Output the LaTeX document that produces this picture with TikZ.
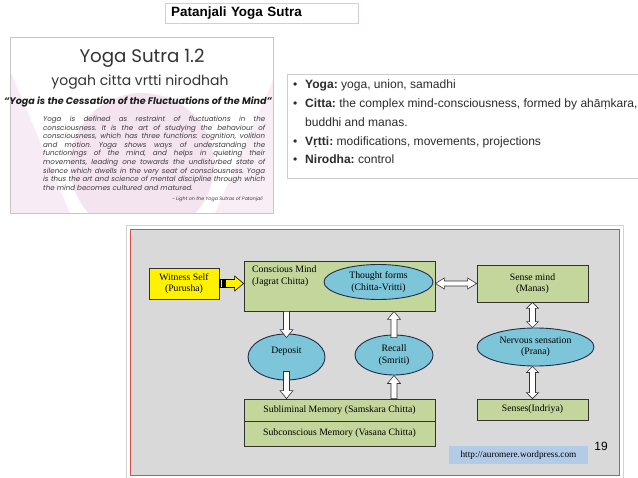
\documentclass[tikz,border=0pt]{standalone}
\usepackage{fontspec}
\usetikzlibrary{calc,shapes.geometric}
\newfontfamily\serf{Liberation Serif}
\newfontfamily\ars{Liberation Sans}
\newfontfamily\pop{Poppins}
\definecolor{bggray}{RGB}{217,217,217}
\definecolor{boxgreen}{RGB}{195,214,155}
\definecolor{ellblue}{RGB}{125,197,216}
\definecolor{ellline}{RGB}{35,45,75}
\definecolor{boxline}{RGB}{50,50,50}
\definecolor{framered}{RGB}{214,80,80}
\definecolor{urlblue}{RGB}{178,204,232}
\definecolor{pinkw}{RGB}{244,228,240}
\definecolor{txtgray}{RGB}{60,60,60}
\definecolor{bultxt}{RGB}{45,45,45}
\newcommand\dfont{\serf\fontsize{9.8}{11.5}\selectfont}
\newcommand\bulmark{\makebox[12bp][l]{•}}
\newcommand\jline[1]{\makebox[222bp][s]{#1}}
\newcommand\singlearrow[6][]{%
  \coordinate (hcA) at ($(#3)!#6!(#2)$);
  \draw[barrow,#1] ($(#2)!#4!90:(#3)$) -- ($(hcA)!#4!90:(#3)$) -- ($(hcA)!#5!90:(#3)$) -- (#3)
    -- ($(hcA)!#5!-90:(#3)$) -- ($(hcA)!#4!-90:(#3)$) -- ($(#2)!#4!-90:(#3)$) -- cycle;}
\newcommand\doublearrow[6][]{%
  \coordinate (hcA) at ($(#2)!#6!(#3)$);
  \coordinate (hcB) at ($(#3)!#6!(#2)$);
  \draw[barrow,#1] (#2) -- ($(hcA)!#5!90:(#3)$) -- ($(hcA)!#4!90:(#3)$) -- ($(hcB)!#4!90:(#3)$)
    -- ($(hcB)!#5!90:(#3)$) -- (#3) -- ($(hcB)!#5!-90:(#3)$) -- ($(hcB)!#4!-90:(#3)$)
    -- ($(hcA)!#4!-90:(#3)$) -- ($(hcA)!#5!-90:(#3)$) -- cycle;}
\tikzset{
  box/.style={draw=boxline, fill=boxgreen, line width=0.8bp, inner sep=0pt, font=\dfont, align=center},
  ell/.style={ellipse, draw=ellline, fill=ellblue, line width=0.9bp, inner sep=0pt, font=\dfont, align=center},
  barrow/.style={draw=boxline, fill=white, line width=0.6bp, line join=miter},
  bul/.style={anchor=base west, inner sep=0pt, text=bultxt, font=\ars\fontsize{12.1}{13}\selectfont},
}
\frenchspacing
\begin{document}
\begin{tikzpicture}[x=1bp,y=-1bp]
\useasboundingbox[fill=white] (0,0) rectangle (638,478);
% title
\node[draw=red!15!gray!35, anchor=north west, minimum width=193bp, minimum height=20bp,
  text width=181bp, inner xsep=6bp, align=left, font=\ars\bfseries\fontsize{13.5}{15}\selectfont] (title) at (165,3) {Patanjali Yoga Sutra};
% left panel
\node[draw=gray!45, fill=white, anchor=north west, minimum width=263bp, minimum height=176bp, inner sep=0pt] (lp) at (10,37) {};
\begin{scope}
  \clip (10,37) rectangle (273,213);
  \fill[pinkw] (142,165) circle (72);
  \fill[pinkw!70] (10,70) -- (70,213) -- (10,213) -- cycle;
  \fill[pinkw!60] (273,80) -- (215,213) -- (273,213) -- cycle;
\end{scope}
\draw[gray!45] (lp.north west) rectangle (lp.south east);
\node[font=\pop\fontsize{18.3}{21}\selectfont, text=black!80, inner sep=0pt] (ys) at (142,58) {Yoga Sutra 1.2};
\node[font=\pop\fontsize{14}{16}\selectfont, text=black!80, inner sep=0pt] (yc) at (140,82) {yogah citta vrtti nirodhah};
\node[font=\pop\bfseries\itshape\fontsize{9.6}{11}\selectfont, text=black!88, inner sep=0pt] (qt) at (138,102) {“Yoga is the Cessation of the Fluctuations of the Mind”};
\node[anchor=north west, inner sep=0pt, text=txtgray,
  font=\frenchspacing\pop\itshape\fontsize{7.1}{8.6}\selectfont] (para) at (43,116) {\parbox[t]{222bp}{%
\jline{Yoga is defined as restraint of fluctuations in the}\\
\jline{consciousness. It is the art of studying the behaviour of}\\
\jline{consciousness, which has three functions: cognition, volition}\\
\jline{and motion. Yoga shows ways of understanding the}\\
\jline{functionings of the mind, and helps in quieting their}\\
\jline{movements, leading one towards the undisturbed state of}\\
\jline{silence which dwells in the very seat of consciousness. Yoga}\\
\jline{is thus the art and science of mental discipline through which}\\
the mind becomes cultured and matured.}};
\node[anchor=east, inner sep=0pt, text=txtgray, font=\pop\itshape\fontsize{4.8}{5}\selectfont] (src) at (263,199) {\textasciitilde\ Light on the Yoga Sutras of Patanjali};
% right panel
\node[draw=gray!40, anchor=north west, minimum width=352bp, minimum height=104bp, inner sep=0pt] (rb) at (287,74) {};
\node[bul] (t1) at (293,89) {\bulmark\bfseries Yoga:\mdseries\ yoga, union, samadhi};
\node[bul] (t2) at (293,108) {\bulmark\bfseries Citta:\mdseries\ the complex mind-consciousness, formed by ahāṃkara,};
\node[bul] (t2b) at (305,127) {buddhi and manas.};
\node[bul] (t3) at (293,146) {\bulmark\bfseries Vṛtti:\mdseries\ modifications, movements, projections};
\node[bul] (t4) at (293,164) {\bulmark\bfseries Nirodha:\mdseries\ control};
% diagram frame
\node[draw=gray!35, fill=white, anchor=north west, minimum width=497bp, minimum height=252bp, inner sep=0pt] (fr) at (126,225.5) {};
\node[draw=framered, line width=1bp, fill=bggray, anchor=north west, minimum width=489bp, minimum height=246bp, inner sep=0pt] (inner) at (130,229) {};
% boxes
\node[box, fill=yellow, minimum width=70bp, minimum height=31bp] (ws) at (184,283.5) {Witness Self\\(Purusha)};
\node[box, minimum width=191bp, minimum height=50bp] (cm) at (339.5,286) {};
\node[anchor=north west, inner sep=0pt, font=\dfont, align=left] (cmt) at (252,266) {Conscious Mind\\(Jagrat Chitta)};
\node[ell, minimum width=109bp, minimum height=35bp] (tf) at (378.5,282) {Thought forms\\(Chitta-Vritti)};
\node[box, minimum width=111bp, minimum height=37bp] (sm) at (532.5,283.5) {Sense mind\\(Manas)};
\node[ell, minimum width=77bp, minimum height=46bp, label={[font=\dfont, yshift=6bp]center:Deposit}] (dep) at (286.5,357) {};
\node[ell, minimum width=78bp, minimum height=40bp] (rec) at (394,355) {Recall\\(Smriti)};
\node[ell, minimum width=117bp, minimum height=38bp] (ns) at (535.5,347) {Nervous sensation\\(Prana)};
\node[box, minimum width=191bp, minimum height=22bp] (sub) at (339.5,410) {Subliminal Memory (Samskara Chitta)};
\node[box, minimum width=191bp, minimum height=25bp] (sbc) at (339.5,433.5) {Subconscious Memory (Vasana Chitta)};
\node[box, minimum width=111bp, minimum height=21bp] (sen) at (532.5,409.5) {Senses(Indriya)};
\node[fill=urlblue, minimum width=139bp, minimum height=18bp, inner sep=0pt, font=\serf\fontsize{9.3}{11}\selectfont] (url) at (518.5,455) {http://auromere.wordpress.com};
\node[inner sep=0pt, font=\ars\fontsize{12}{14}\selectfont] (pg) at (601,446) {19};
% arrows
\coordinate (y1) at (ws.east);
\coordinate (y2) at (ws.east -| cm.west);
\singlearrow[fill=yellow, draw=black]{y1}{y2}{4bp}{7.5bp}{9bp}
\fill[black] ($(ws.east)+(0,-4)$) rectangle ++(2,8);
\fill[black] ($(ws.east)+(3,-4)$) rectangle ++(3.5,8);
\coordinate (a1s) at (cm.south -| dep.north);
\coordinate (a1e) at ($(dep.north)+(0,4)$);
\singlearrow{a1s}{a1e}{3bp}{6.5bp}{8bp}
\coordinate (a2s) at ($(dep.south)+(0,-9)$);
\coordinate (a2e) at (sub.north -| dep.south);
\singlearrow{a2s}{a2e}{3bp}{6.5bp}{8bp}
\coordinate (a3s) at (rec.south |- sub.north);
\coordinate (a3e) at (rec.south);
\singlearrow{a3s}{a3e}{3bp}{6.5bp}{8bp}
\coordinate (a4s) at ($(rec.north)+(0,3)$);
\coordinate (a4e) at (rec.north |- cm.south);
\singlearrow{a4s}{a4e}{3bp}{6.5bp}{8bp}
\coordinate (d1s) at (cm.east |- sm.west);
\coordinate (d1e) at (sm.west);
\doublearrow{d1s}{d1e}{2.5bp}{5.5bp}{9bp}
\coordinate (d2s) at (sm.south);
\coordinate (d2e) at (sm.south |- ns.north);
\doublearrow{d2s}{d2e}{3bp}{6bp}{6bp}
\coordinate (d3s) at (sen.north |- ns.south);
\coordinate (d3e) at (sen.north);
\doublearrow{d3s}{d3e}{3bp}{6bp}{6bp}
\end{tikzpicture}
\end{document}
